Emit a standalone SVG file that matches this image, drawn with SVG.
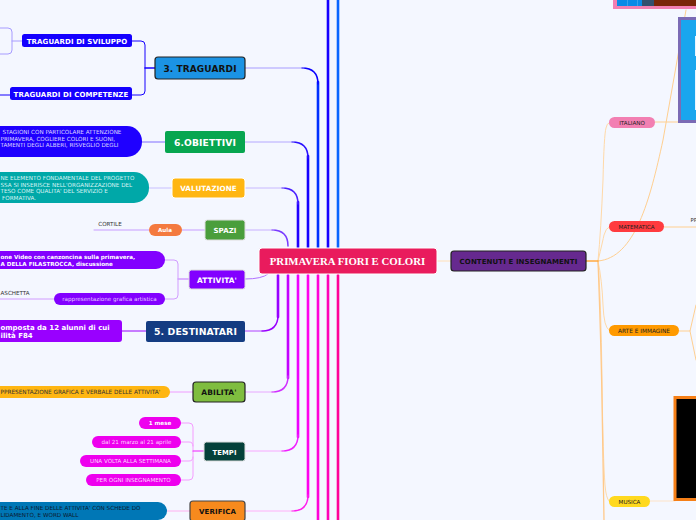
<svg xmlns="http://www.w3.org/2000/svg" width="696" height="520" viewBox="0 0 696 520">
<style>
text{font-family:"DejaVu Sans","Liberation Sans",sans-serif;text-anchor:middle}
.c{fill:none;stroke-linecap:round}
.k{stroke-width:2.6;fill:none}
.m{stroke-width:1.5;fill:none}
.h{stroke-width:1;fill:none}
.b{font-weight:700;font-size:8px;letter-spacing:.1px}
.n{font-size:5.6px}
.t{font-size:5.6px;fill:#333}
.s{text-anchor:start}
</style>
<rect width="696" height="520" fill="#f4f7ff"/>
<g id="connectors" class="c">
<path class="k" d="M328 0V248" stroke="#1400ff"/>
<path class="k" d="M338 0V248" stroke="#0a66ff"/>
<path class="k" d="M318 82V248" stroke="#0030ff"/>
<path class="m" d="M302 68Q318 68 318 84" stroke="#0a00ff"/>
<path class="h" d="M245 68H304" stroke="#a79cff"/>
<path class="k" d="M308 156V248" stroke="#1400ff"/>
<path class="m" d="M292 142Q308 142 308 158" stroke="#2a10ff"/>
<path class="h" d="M245 142H294" stroke="#b4a8ff"/>
<path class="k" d="M298 202V248" stroke="#2000ff"/>
<path class="m" d="M282 188Q298 188 298 204" stroke="#4a20ff"/>
<path class="h" d="M245 188H284" stroke="#c8b8ff"/>
<path class="m" d="M272 230Q288 230 288 246" stroke="#7a3cff"/>
<path class="h" d="M245 230H274" stroke="#c8b0ff"/>
<path class="h" d="M245 279Q262 279 268 274" stroke="#b070ff"/>
<path class="k" d="M278 275V317" stroke="#9900ff"/>
<path class="m" d="M278 315Q278 331 262 331" stroke="#9900ff"/>
<path class="h" d="M245 331H264" stroke="#b040ff"/>
<path class="k" d="M288 275V378" stroke="#c400ff"/>
<path class="m" d="M288 376Q288 392 272 392" stroke="#d030ff"/>
<path class="h" d="M245 392H274" stroke="#e8a8ff"/>
<path class="k" d="M298 275V437" stroke="#ee00ff"/>
<path class="m" d="M298 435Q298 451 282 451" stroke="#f020ff"/>
<path class="h" d="M245 451H284" stroke="#f8a8ff"/>
<path class="k" d="M308 275V497" stroke="#ff00ee"/>
<path class="m" d="M308 495Q308 511 292 511" stroke="#ff20ee"/>
<path class="h" d="M245 511H294" stroke="#ffb0f8"/>
<path class="k" d="M318 275V520" stroke="#ff00d8"/>
<path class="k" d="M328 275V520" stroke="#ff00b8"/>
<path class="k" d="M338 275V520" stroke="#ff0098"/>
<g stroke="#1400ff">
<path d="M145 68H155" stroke-width="1.6"/>
<path d="M132 41H141Q145 41 145 45V91Q145 95 141 95H132" stroke-width="1"/>
<path d="M0 95H10"/>
</g>
<path d="M0 28H8Q12 28 12 32V50Q12 54 8 54H0M12 41H22" stroke="#a79cff"/>
<path d="M142 142H165" stroke="#a79cff" stroke-width="1.5"/>
<path d="M149 188H172" stroke="#c8c0ff" stroke-width="1.2"/>
<path d="M94 230H149M182 230H205" stroke="#c79cff" stroke-width="1"/>
<path d="M165 260H174Q178 260 178 264V295Q178 299 174 299H165" stroke="#d19cff" stroke-width="1"/>
<path d="M178 279H189" stroke="#d19cff" stroke-width="1.300"/>
<path d="M0 299H54" stroke="#d19cff" stroke-width="1"/>
<path d="M122 331H146" stroke="#9900ff" stroke-width="1"/>
<path d="M170 392H193" stroke="#f09cff" stroke-width="1"/>
<path d="M181 423H189Q193 423 193 427V476Q193 480 189 480H181M181 442H189Q193 442 193 446M181 461H189Q193 461 193 457" stroke="#f59cff" stroke-width="1"/>
<path d="M193 451H204" stroke="#f020ff" stroke-width="1.200"/>
<path d="M167 511H190" stroke="#ffb0f0" stroke-width="1"/>
<g stroke="#ffd9a8" stroke-width="1">
<path d="M437 261H451" stroke="#ffe0b8"/>
<path d="M598 261Q601 230 603 180Q604 135 606 128Q607 123 609 123"/>
<path d="M598 261Q603 240 604 235Q606 228 609 227"/>
<path d="M598 261Q602 280 603 305Q604 328 609 330"/>
<path d="M598 261Q601 300 602 380Q603 460 605 485Q606 498 609 501"/>
<path d="M598 261Q601 340 602 400L604 520" stroke="#ffc98a" stroke-width="1.300"/>
<path d="M598 261C635 258 650 200 663 140L686 10" stroke="#ffcf90"/>
<path d="M655 122H680M664 227H696M679 331H690L696 305M690 331L696 360" stroke="#ffcf90"/>
<path d="M650 501H675" stroke="#fde3c8"/>
</g>
<path d="M586 261H598" stroke="#ffa940" stroke-width="1.600"/>
</g>
<g id="n-center"><rect x="259" y="248" width="178" height="26" rx="3" fill="#e91b5d" stroke="#fff"/><text x="347.500" y="264.500" style="font-family:'Liberation Serif',serif;font-weight:700;font-size:10.800px" fill="#fff">PRIMAVERA FIORI E COLORI</text></g>
<g id="n-contenuti"><rect x="451" y="251" width="135" height="20" rx="3" fill="#66298f" stroke="#222" stroke-width="1.200"/><text x="518.500" y="264" class="b" style="font-size:7px" fill="#111">CONTENUTI E INSEGNAMENTI</text></g>
<g id="n-traguardi"><rect x="155" y="57" width="90" height="22" rx="3" fill="#1b93e4" stroke="#222" stroke-width="1.200"/><text x="200" y="71.500" class="b" style="font-size:9px" fill="#111">3. TRAGUARDI</text></g>
<g id="n-sviluppo"><rect x="22" y="34" width="110" height="13" rx="2.500" fill="#1400ff"/><text x="77" y="44" class="b" style="font-size:7px" fill="#fff">TRAGUARDI DI SVILUPPO</text></g>
<g id="n-competenze"><rect x="10" y="87" width="122" height="13" rx="2.500" fill="#1400ff"/><text x="71" y="97" class="b" style="font-size:7px" fill="#fff">TRAGUARDI DI COMPETENZE</text></g>
<g id="n-obiettivi"><rect x="165" y="131" width="80" height="22" rx="2" fill="#07a650"/><text x="205" y="145.500" class="b" style="font-size:9.200px" fill="#fff">6.OBIETTIVI</text></g>
<g id="n-ob-text"><rect x="-40" y="126" width="182" height="31" rx="15" fill="#1f00ff"/><g fill="#dcd8ff" style="font-size:5.650px" class="s"><text class="s" x="2.500" y="134">STAGIONI CON PARTICOLARE ATTENZIONE</text><text class="s" x="0.500" y="141">PRIMAVERA,  COGLIERE COLORI E SUONI,</text><text class="s" x="0.500" y="147">TAMENTI DEGLI ALBERI, RISVEGLIO DEGLI</text></g></g>
<g id="n-valutazione"><rect x="172" y="178" width="73" height="20" rx="3" fill="#ffb612" stroke="#fff"/><text x="208.500" y="190.500" class="b" style="font-size:7.200px" fill="#fff">VALUTAZIONE</text></g>
<g id="n-val-text"><rect x="-40" y="172" width="189" height="31" rx="15" fill="#00a8a8"/><g fill="#d8f4f4" style="font-size:5.650px"><text class="s" x="0.500" y="180">NE ELEMENTO FONDAMENTALE DEL PROGETTO</text><text class="s" x="0.500" y="187">SSA SI INSERISCE NELL'ORGANIZZAZIONE DEL</text><text class="s" x="0.500" y="193">TESO COME QUALITA' DEL SERVIZIO E</text><text class="s" x="2" y="200">FORMATIVA.</text></g></g>
<g id="n-spazi"><rect x="205" y="220" width="40" height="20" rx="2.500" fill="#4a9e3c" stroke="#ddd"/><text x="225" y="233" class="b" style="font-size:7px" fill="#fff">SPAZI</text></g>
<g id="n-aula"><rect x="149" y="224" width="33" height="12" rx="6" fill="#f47a3f"/><text x="165" y="232" class="n" style="font-weight:700" fill="#fff">Aula</text></g>
<g id="n-cortile"><text x="110" y="226" class="t">CORTILE</text></g>
<g id="n-attivita"><rect x="189" y="270" width="56" height="19" rx="2.500" fill="#8200ff" stroke="#ddd"/><text x="217" y="282.500" class="b" style="font-size:7.400px" fill="#fff">ATTIVITA'</text></g>
<g id="n-video"><rect x="-40" y="251" width="205" height="18" rx="9" fill="#8200ff"/><g fill="#fff" style="font-size:5.600px;font-weight:700"><text class="s" x="0.500" y="259">one Video con canzoncina sulla primavera,</text><text class="s" x="0.500" y="266">A DELLA FILASTROCCA, discussione</text></g></g>
<g id="n-rappr"><rect x="54" y="293" width="111" height="12" rx="6" fill="#8200ff"/><text x="109.500" y="301" class="n" fill="#e2c8ff">rappresentazione grafica artistica</text></g>
<g id="n-vaschetta"><text class="t s" x="0.500" y="295">ASCHETTA</text></g>
<g id="n-destinatari"><rect x="146" y="321" width="99" height="21" rx="2" fill="#143c82"/><text x="195.500" y="335" class="b" style="font-size:9.300px" fill="#fff">5. DESTINATARI</text></g>
<g id="n-dest-text"><rect x="-30" y="320" width="152" height="22" rx="3" fill="#9900ff"/><g fill="#fff" style="font-size:7px;font-weight:700"><text class="s" x="0.500" y="330">omposta da 12 alunni di cui</text><text class="s" x="0.500" y="338">ilità F84</text></g></g>
<g id="n-abilita"><rect x="193" y="382" width="52" height="20" rx="3" fill="#7fbd3f" stroke="#222" stroke-width="1.200"/><text x="219" y="395" class="b" style="font-size:7.500px" fill="#111">ABILITA'</text></g>
<g id="n-ab-text"><rect x="-30" y="386" width="200" height="12" rx="6" fill="#ffb612"/><text class="n s" x="0.500" y="394" fill="#333" style="font-size:5.750px">PPRESENTAZIONE GRAFICA E VERBALE  DELLE ATTIVITA'</text></g>
<g id="n-tempi"><rect x="204" y="442" width="41" height="19" rx="2.500" fill="#04403a" stroke="#ddd"/><text x="224.500" y="454.500" class="b" style="font-size:6.800px" fill="#fff">TEMPI</text></g>
<g id="n-t1"><rect x="139" y="417" width="42" height="12" rx="6" fill="#ee00ee"/><text x="160" y="425" class="n" style="font-weight:700" fill="#fff">1 mese</text></g>
<g id="n-t2"><rect x="92" y="436" width="89" height="12" rx="6" fill="#ee00ee"/><text x="136.500" y="444" class="n" fill="#ffd0ff">dal 21 marzo al 21 aprile</text></g>
<g id="n-t3"><rect x="80" y="455" width="101" height="12" rx="6" fill="#ee00ee"/><text x="130.500" y="463" class="n" fill="#ffd0ff">UNA VOLTA ALLA SETTIMANA</text></g>
<g id="n-t4"><rect x="86" y="474" width="95" height="12" rx="6" fill="#ee00ee"/><text x="133.500" y="482" class="n" fill="#ffd0ff">PER OGNI INSEGNAMENTO</text></g>
<g id="n-verifica"><rect x="190" y="501" width="55" height="20" rx="3" fill="#f78a1d" stroke="#444" stroke-width="1.200"/><text x="217.500" y="514" class="b" style="font-size:7px" fill="#111">VERIFICA</text></g>
<g id="n-ver-text"><rect x="-30" y="502" width="197" height="18" rx="9" fill="#0077b6"/><g fill="#0c1a30" style="font-size:5.650px"><text class="s" x="0.500" y="510">TE E ALLA FINE DELLE ATTIVITA' CON SCHEDE DO</text><text class="s" x="0.500" y="516.500">LIDAMENTO, E WORD WALL</text></g></g>
<g id="n-italiano"><rect x="609" y="117" width="46" height="11" rx="5.500" fill="#f27fb2"/><text x="632" y="124.500" class="n" fill="#222">ITALIANO</text></g>
<g id="n-matematica"><rect x="609" y="221" width="55" height="11" rx="5.500" fill="#ff3b3f"/><text x="636.500" y="229" class="n" fill="#222">MATEMATICA</text></g>
<g id="n-arte"><rect x="609" y="325" width="70" height="11" rx="5.500" fill="#ff9a00"/><text x="644" y="333" class="n" fill="#222" style="font-size:5.800px">ARTE E IMMAGINE</text></g>
<g id="n-musica"><rect x="609" y="496" width="41" height="11" rx="5.500" fill="#ffd91f"/><text x="629.500" y="503.500" class="n" fill="#222">MUSICA</text></g>
<g id="n-pr"><text x="690.500" y="222" class="t s" style="font-size:5.400px">PR</text></g>
<g id="n-img-top"><rect x="613" y="-4" width="83" height="13" fill="#f27fb2"/><rect x="617" y="-4" width="79" height="10" fill="#0a8ae6"/><rect x="642" y="-4" width="12" height="10" fill="#33506e"/><rect x="654" y="0" width="42" height="6" fill="#7a2608"/><path d="M627.500 0V6M637.500 0V6" stroke="#3aa0ea" stroke-width="1"/></g>
<g id="n-img-blue"><rect x="679.500" y="18.500" width="20" height="103" fill="#19a6ee" stroke="#7b6bb5" stroke-width="3"/><rect x="695" y="36" width="1" height="20" fill="#e8f4ff"/><rect x="695" y="70" width="1" height="40" fill="#e8f4ff"/></g>
<g id="n-img-black"><rect x="675" y="397.500" width="24" height="102" fill="#000" stroke="#f57f17" stroke-width="3"/></g>
</svg>
